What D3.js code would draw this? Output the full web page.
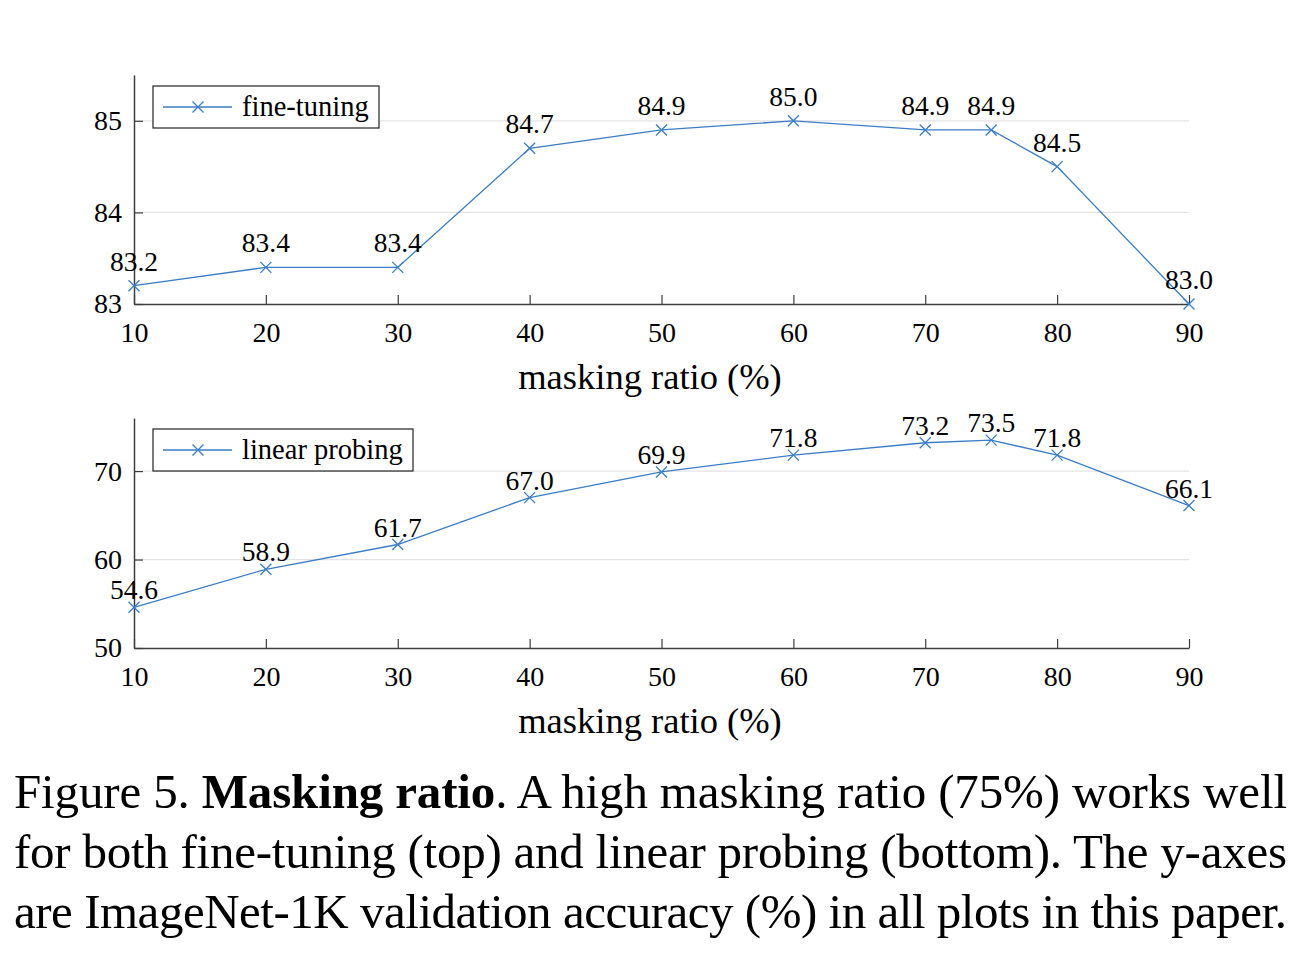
<!DOCTYPE html>
<html>
<head>
<meta charset="utf-8">
<script src="https://cdn.jsdelivr.net/npm/d3@7"></script>
<style>
  body { margin: 0; background: #fff; }
  text { font-family: "Liberation Serif", "Times New Roman", serif; fill: #000; }
</style>
</head>
<body>
<div id="grafico"></div>
<script>
// datos
const RATIOS = [10, 20, 30, 40, 50, 60, 70, 75, 80, 90];
const FINE_TUNING = [83.2, 83.4, 83.4, 84.7, 84.9, 85.0, 84.9, 84.9, 84.5, 83.0];
const LINEAR_PROBING = [54.6, 58.9, 61.7, 67.0, 69.9, 71.8, 73.2, 73.5, 71.8, 66.1];
const X_TICKS = [10, 20, 30, 40, 50, 60, 70, 80, 90];
const Y_TICKS_TOP = [83, 84, 85];
const Y_TICKS_BOTTOM = [50, 60, 70];
const CAPTION = [
    ["Figure 5. ", "Masking ratio", ". A high masking ratio (75%) works well"],
    ["for both fine-tuning (top) and linear probing (bottom). The y-axes"],
    ["are ImageNet-1K validation accuracy (%) in all plots in this paper."]
];

const WIDTH = 1300;
const HEIGHT = 954;
const COLOR = "#3a7dc6";
const X0 = 134, X1 = 1189;

const SVG = d3.select("#grafico").append("svg").attr("width", WIDTH).attr("height", HEIGHT);

var escalaX = d3.scaleLinear().domain([10, 90]).range([X0, X1]);

function dibujarPanel(valores, dominioY, rangoY, ticksY, nombre, anchoLeyenda, offsetEtiqueta) {
    var escalaY = d3.scaleLinear().domain(dominioY).range(rangoY);
    var g = SVG.append("g");
    var yBase = rangoY[0];

    // grilla
    g.selectAll(".grid")
        .data(ticksY.slice(1))
        .enter().append("line")
        .attr("x1", X0).attr("x2", X1)
        .attr("y1", d => escalaY(d)).attr("y2", d => escalaY(d))
        .attr("stroke", "#e3e3e3").attr("stroke-width", 1.2);

    // eje x
    var ejeX = d3.axisBottom(escalaX).tickValues(X_TICKS).tickFormat(d3.format("d"))
        .tickSize(-9).tickSizeOuter(0).tickPadding(18);
    var gx = g.append("g").attr("transform", "translate(0," + yBase + ")").call(ejeX);
    gx.select(".domain").attr("stroke", "#3c3c3c").attr("stroke-width", 1.5);
    gx.selectAll(".tick line").attr("stroke", "#3c3c3c").attr("stroke-width", 1.2);
    gx.selectAll("text").style("font-size", "28px").style("font-family", "Liberation Serif").attr("fill", "#000");

    // eje y
    var ejeY = d3.axisLeft(escalaY).tickValues(ticksY).tickFormat(d3.format("d"))
        .tickSize(-9).tickSizeOuter(0).tickPadding(12);
    var gy = g.append("g").attr("transform", "translate(" + X0 + ",0)").call(ejeY);
    gy.select(".domain").attr("stroke", "#3c3c3c").attr("stroke-width", 1.5);
    gy.selectAll(".tick line").attr("stroke", "#3c3c3c").attr("stroke-width", 1.2);
    gy.selectAll("text").style("font-size", "28px").style("font-family", "Liberation Serif").attr("fill", "#000");

    // linea
    var linea = d3.line().x((d, i) => escalaX(RATIOS[i])).y(d => escalaY(d));
    g.append("path").datum(valores)
        .attr("d", linea)
        .attr("fill", "none")
        .attr("stroke", COLOR)
        .attr("stroke-width", 1.3);

    // marcadores x
    var m = 5.5;
    g.selectAll(".marca").data(valores).enter().append("path")
        .attr("d", (d, i) => {
            var x = escalaX(RATIOS[i]), y = escalaY(d);
            return "M" + (x - m) + "," + (y - m) + "L" + (x + m) + "," + (y + m) +
                   "M" + (x - m) + "," + (y + m) + "L" + (x + m) + "," + (y - m);
        })
        .attr("stroke", COLOR).attr("stroke-width", 1.3).attr("fill", "none");

    // etiquetas
    g.selectAll(".etiqueta").data(valores).enter().append("text")
        .attr("x", (d, i) => escalaX(RATIOS[i]))
        .attr("y", d => escalaY(d) - offsetEtiqueta)
        .attr("text-anchor", "middle")
        .style("font-size", "27.5px")
        .text(d => d.toFixed(1));

    // leyenda
    var top = rangoY[1];
    var ly = top + 32;
    g.append("rect")
        .attr("x", 153).attr("y", ly - 21)
        .attr("width", anchoLeyenda).attr("height", 42)
        .attr("fill", "#fff").attr("stroke", "#222").attr("stroke-width", 1.2);
    g.append("line").attr("x1", 163).attr("x2", 232).attr("y1", ly).attr("y2", ly)
        .attr("stroke", COLOR).attr("stroke-width", 1.3);
    g.append("path")
        .attr("d", "M" + (198 - m) + "," + (ly - m) + "L" + (198 + m) + "," + (ly + m) +
                   "M" + (198 - m) + "," + (ly + m) + "L" + (198 + m) + "," + (ly - m))
        .attr("stroke", COLOR).attr("stroke-width", 1.3);
    g.append("text").attr("x", 242).attr("y", ly + 9)
        .style("font-size", "28.5px").text(nombre);

    // titulo eje x
    g.append("text")
        .attr("x", 650)
        .attr("y", yBase + 85)
        .attr("text-anchor", "middle")
        .style("font-size", "36.5px")
        .text("masking ratio (%)");
}

dibujarPanel(FINE_TUNING, [83, 85.5], [304, 75], Y_TICKS_TOP, "fine-tuning", 226, 15);
dibujarPanel(LINEAR_PROBING, [50, 76], [648, 418], Y_TICKS_BOTTOM, "linear probing", 260, 8);

// leyenda de la figura
CAPTION.forEach(function(partes, i) {
    var t = SVG.append("text")
        .attr("x", 14)
        .attr("y", 808 + i * 60)
        .attr("textLength", 1273)
        .attr("lengthAdjust", "spacing")
        .style("font-size", "49px");
    partes.forEach(function(p, j) {
        t.append("tspan")
            .attr("font-weight", (partes.length > 1 && j === 1) ? "bold" : "normal")
            .text(p);
    });
});
</script>
</body>
</html>
